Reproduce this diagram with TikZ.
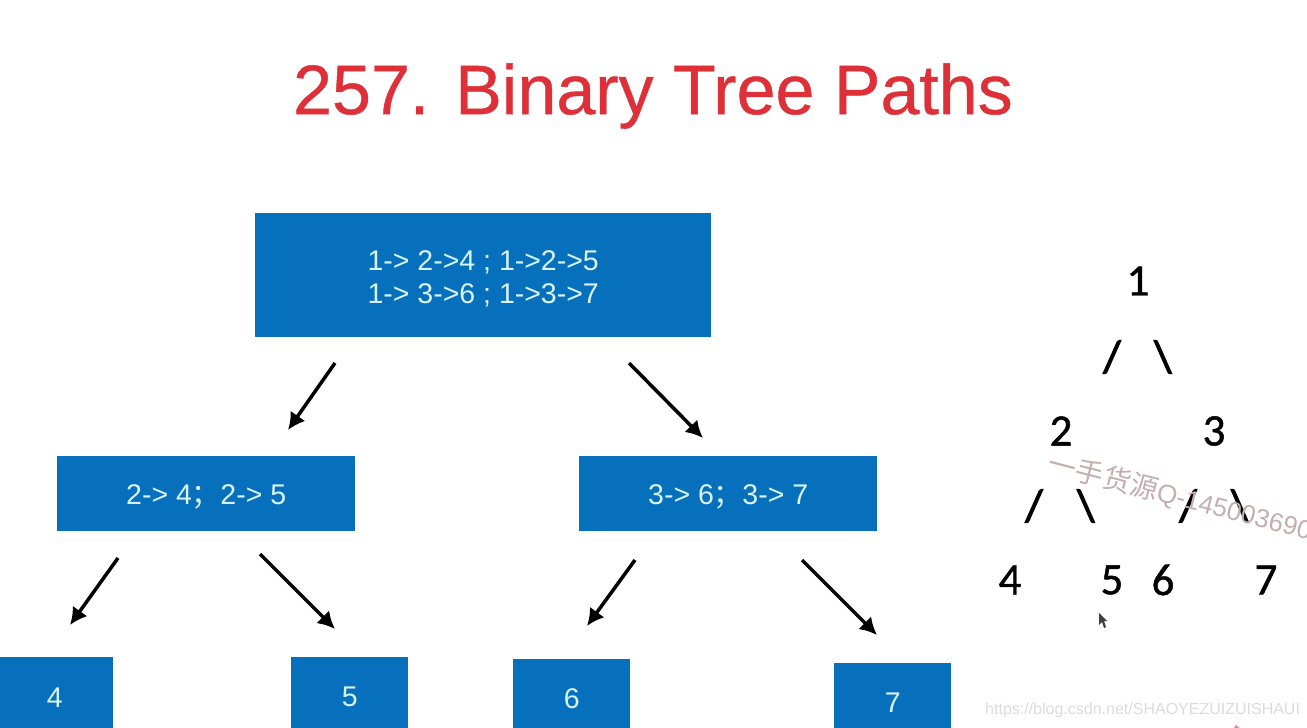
\documentclass[tikz,border=0pt]{standalone}
\usepackage{fontspec}
\setmainfont{Liberation Sans}
\newfontfamily\titlefont[FakeBold=0.6]{Liberation Sans}
\newfontfamily\cjk{Noto Sans CJK SC}
\newfontfamily\treefont[FakeBold=1.0]{Carlito}
\newfontfamily\slashfont[FakeBold=2.5]{Carlito}
\definecolor{boxblue}{HTML}{0770BC}
\definecolor{boxtext}{HTML}{D8F4FA}
\definecolor{titlered}{HTML}{DD3039}
\definecolor{markgray}{HTML}{C4AEAE}
\usetikzlibrary{arrows.meta}
\newcommand{\downstrut}[1]{\rule{0pt}{#1}}
\tikzset{
  x=1pt,y=-1pt,
  bluebox/.style={fill=boxblue,draw=none,inner sep=0pt,text=boxtext,align=center,anchor=north west},
  arrowline/.style={draw=black,line width=3.5pt,-{Latex[length=17pt,width=18pt]}},
  treenum/.style={font=\treefont\fontsize{45}{45}\selectfont,text=black,inner sep=0pt},
  treeslash/.style={font=\slashfont\fontsize{45}{45}\selectfont,text=black,inner sep=0pt},
  smalltext/.style={font=\fontsize{28.5}{33.5}\selectfont},
}
\begin{document}
\begin{tikzpicture}
\useasboundingbox (0,0) rectangle (1307,728);
\clip (0,0) rectangle (1307,728);
\node[font=\titlefont\fontsize{70}{70}\selectfont,text=titlered,inner sep=0pt] (title) at (653,96) {257. Binary Tree Paths};
% boxes
\node[bluebox,minimum width=456pt,minimum height=124pt,smalltext] (root) at (255,213) {\downstrut{27pt}1-> 2->4 ; 1->2->5\\1-> 3->6 ; 1->3->7};
\node[bluebox,minimum width=298pt,minimum height=75pt,smalltext] (left) at (57,456) {\downstrut{27pt}2-> 4{\cjk；}2-> 5};
\node[bluebox,minimum width=298pt,minimum height=75pt,smalltext] (right) at (579,456) {\downstrut{27pt}3-> 6{\cjk；}3-> 7};
\node[bluebox,minimum width=117pt,minimum height=80pt,smalltext] (n4) at (-4,657) {4};
\node[bluebox,minimum width=117pt,minimum height=80pt,smalltext] (n5) at (291,657) {5};
\node[bluebox,minimum width=117pt,minimum height=78pt,smalltext] (n6) at (513,659) {6};
\node[bluebox,minimum width=117pt,minimum height=78pt,smalltext] (n7) at (834,663) {7};
% arrows
\coordinate (a1s) at (335,363); \coordinate (a1e) at (288,430);
\coordinate (a2s) at (629,363); \coordinate (a2e) at (703,438);
\coordinate (a3s) at (118,558); \coordinate (a3e) at (70,625);
\coordinate (a4s) at (260,554); \coordinate (a4e) at (335,629);
\coordinate (a5s) at (635,560); \coordinate (a5e) at (587,626);
\coordinate (a6s) at (802,560); \coordinate (a6e) at (877,635);
\draw[arrowline] (a1s) -- (a1e);
\draw[arrowline] (a2s) -- (a2e);
\draw[arrowline] (a3s) -- (a3e);
\draw[arrowline] (a4s) -- (a4e);
\draw[arrowline] (a5s) -- (a5e);
\draw[arrowline] (a6s) -- (a6e);
% text tree
\node[treenum] (t1) at (1138,281) {1};
\node[treeslash] (s1) at (1112,357) {/};
\node[treeslash] (b1) at (1163,357) {\textbackslash};
\node[treenum] (t2) at (1061,431) {2};
\node[treenum] (t3) at (1214,431) {3};
\node[treeslash] (s2) at (1034,506) {/};
\node[treeslash] (b2) at (1086,506) {\textbackslash};
\node[treeslash] (s3) at (1188,506) {/};
\node[treeslash] (b3) at (1240,506) {\textbackslash};
\node[treenum] (t4) at (1010,580) {4};
\node[treenum] (t5) at (1112,580) {5};
\node[treenum] (t6) at (1163,580) {6};
\node[treenum] (t7) at (1266,580) {7};
% cursor
\fill[black!75] (1099,613) -- (1099,625) -- (1102,622) -- (1104,628) -- (1106,627) -- (1104,621) -- (1107,621) -- cycle;
% watermarks
\node[anchor=west,rotate=-14.5,inner sep=0pt,text=markgray,font=\fontsize{26}{26}\selectfont] (wm1) at (1049,463) {{\cjk\fontsize{28}{28}\selectfont 一手货源}Q-145003690};
\node[anchor=west,inner sep=0pt,text=black!14,font=\fontsize{16}{16}\selectfont] (wm2) at (985,710) {https://blog.csdn.net/SHAOYEZUIZUISHAUI};
\fill[titlered!60] (1236,725) -- (1234,728) -- (1239,728) -- cycle;
\end{tikzpicture}
\end{document}
